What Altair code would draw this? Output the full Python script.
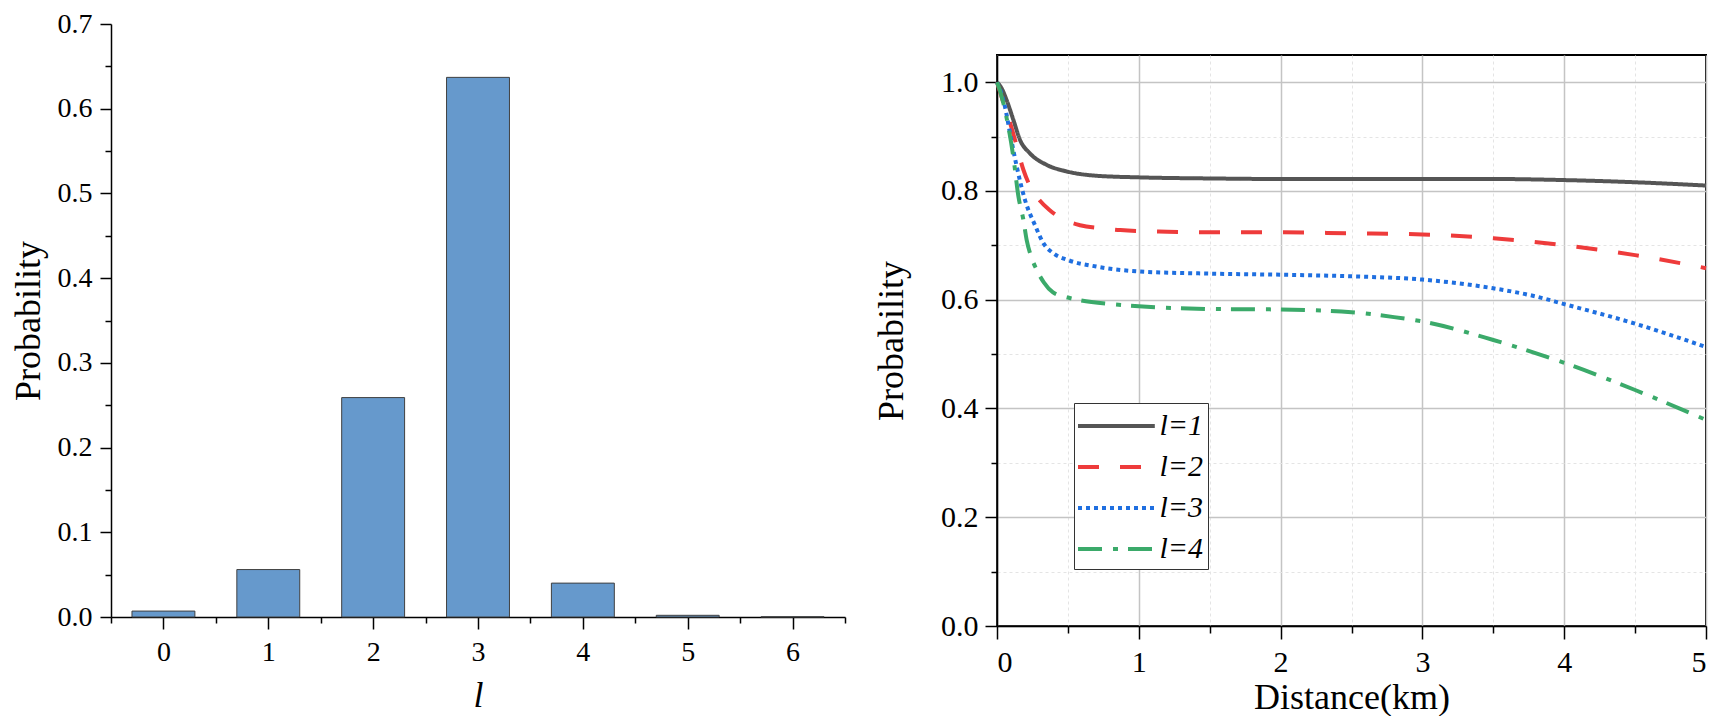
import altair as alt
import pandas as pd

# ---- left panel: probability of each l ----
l_values = [0, 1, 2, 3, 4, 5, 6]
l_prob = [0.007, 0.056, 0.259, 0.637, 0.040, 0.002, 0.0003]

# ---- right panel: probability versus distance (km) ----
dist_1 = [0, 0.03, 0.068, 0.115, 0.162, 0.233, 0.35, 0.49, 0.70, 1.0, 1.5, 2.0, 2.5, 3.0, 3.5, 4.0, 4.5, 5.0]
prob_1 = [1.0, 0.99, 0.967, 0.931, 0.894, 0.869, 0.848, 0.836, 0.828, 0.825, 0.823, 0.822, 0.822, 0.822, 0.822, 0.820, 0.816, 0.810]

dist_2 = [0, 0.03, 0.06, 0.092, 0.127, 0.186, 0.24, 0.30, 0.37, 0.45, 0.586, 0.75, 0.87, 1.2, 1.5, 2.0, 2.5, 3.0, 3.5, 4.0, 4.5, 5.0]
prob_2 = [1.0, 0.975, 0.95, 0.925, 0.894, 0.839, 0.805, 0.783, 0.765, 0.75, 0.737, 0.731, 0.728, 0.725, 0.724, 0.724, 0.722, 0.720, 0.713, 0.700, 0.682, 0.658]

dist_3 = [0, 0.03, 0.056, 0.092, 0.139, 0.198, 0.268, 0.327, 0.40, 0.5, 0.7, 1.0, 1.5, 2.0, 2.5, 3.0, 3.5, 3.8, 4.0, 4.5, 5.0]
prob_3 = [1.0, 0.98, 0.955, 0.906, 0.845, 0.783, 0.737, 0.704, 0.685, 0.673, 0.661, 0.652, 0.648, 0.646, 0.643, 0.637, 0.621, 0.606, 0.592, 0.556, 0.513]

dist_4 = [0, 0.02, 0.045, 0.08, 0.115, 0.151, 0.186, 0.209, 0.24, 0.276, 0.33, 0.393, 0.5, 0.588, 0.8, 1.0, 1.5, 2.0, 2.5, 2.8, 3.0, 3.5, 4.0, 4.5, 5.0]
prob_4 = [1.0, 0.985, 0.961, 0.918, 0.863, 0.790, 0.747, 0.71, 0.68, 0.657, 0.632, 0.614, 0.604, 0.599, 0.592, 0.588, 0.583, 0.582, 0.577, 0.568, 0.560, 0.526, 0.484, 0.434, 0.379]

series_names = ["l=1", "l=2", "l=3", "l=4"]
series_colors = ["#555555", "#EE3B3B", "#1F6FE0", "#3BAA6A"]
series_dashes = [[1, 0], [21, 21], [4, 4], [24, 11, 5, 10]]

# tick positions (majors are labelled, the rest are minor ticks)
l_ticks = [-0.5, 0, 0.5, 1, 1.5, 2, 2.5, 3, 3.5, 4, 4.5, 5, 5.5, 6, 6.5]
bar_prob_ticks = [0.0, 0.05, 0.1, 0.15, 0.2, 0.25, 0.3, 0.35, 0.4, 0.45, 0.5, 0.55, 0.6, 0.65, 0.7]
dist_ticks = [0, 0.5, 1, 1.5, 2, 2.5, 3, 3.5, 4, 4.5, 5]
curve_prob_ticks = [0.0, 0.1, 0.2, 0.3, 0.4, 0.5, 0.6, 0.7, 0.8, 0.9, 1.0]

SERIF = "Liberation Serif"

bars_df = pd.DataFrame({"l": l_values, "prob": l_prob})
curves_df = pd.concat(
    [
        pd.DataFrame({"dist": d, "prob": p, "series": s})
        for d, p, s in zip([dist_1, dist_2, dist_3, dist_4],
                           [prob_1, prob_2, prob_3, prob_4], series_names)
    ],
    ignore_index=True,
)


def styled_axis(label_size, **kw):
    base = dict(
        domainColor="black", domainWidth=1.5, tickColor="black", tickWidth=1.5,
        labelFont=SERIF, labelFontSize=label_size, labelColor="black",
        titleFont=SERIF, titleFontSize=36, titleFontWeight="normal", titleColor="black",
    )
    base.update(kw)
    return alt.Axis(**base)


def minor_size(test, minor, major):
    return {"condition": {"test": test, "value": minor}, "value": major}


# ---- bar chart ----
bar_minor = "round(datum.value * 100) % 10 != 0"
l_minor = "datum.value % 1 != 0"

bars = (
    alt.Chart(bars_df)
    .transform_calculate(lo="datum.l - 0.3", hi="datum.l + 0.3")
    .mark_bar(color="#6699CC", stroke="#404040", strokeWidth=1)
    .encode(
        x=alt.X(
            "lo:Q",
            scale=alt.Scale(domain=[-0.5, 6.5], nice=False, zero=False),
            axis=styled_axis(
                28, title="l", titleFontStyle="italic", values=l_ticks,
                labelExpr="datum.value % 1 == 0 ? format(datum.value, 'd') : ''",
                tickSize=minor_size(l_minor, 6, 12), grid=False,
                labelPadding=9, titlePadding=12,
            ),
        ),
        x2="hi:Q",
        y=alt.Y(
            "prob:Q",
            scale=alt.Scale(domain=[0, 0.7], nice=False),
            axis=styled_axis(
                28, title="Probability", values=bar_prob_ticks,
                labelExpr="round(datum.value * 100) % 10 == 0 ? format(datum.value, '.1f') : ''",
                tickSize=minor_size(bar_minor, 6, 11), grid=False,
                labelPadding=8, titlePadding=10,
            ),
        ),
        y2=alt.datum(0),
    )
    .properties(width=734, height=593, view=alt.ViewBackground(stroke="transparent"))
)

# ---- distance curves ----
dist_minor = "datum.value % 1 != 0"
curve_minor = "round(datum.value * 10) % 2 == 1"

curves = (
    alt.Chart(curves_df)
    .mark_line(strokeWidth=4, strokeCap="butt", interpolate="monotone")
    .encode(
        x=alt.X(
            "dist:Q",
            scale=alt.Scale(domain=[0, 5], nice=False),
            axis=styled_axis(
                30, title="Distance(km)", values=dist_ticks,
                labelExpr="datum.value % 1 == 0 ? format(datum.value, 'd') : ''",
                tickSize=minor_size(dist_minor, 7, 13),
                grid=True,
                gridColor=minor_size(dist_minor, "#e4e4e4", "#c4c4c4"),
                gridDash=minor_size(dist_minor, [3, 3], []),
                gridWidth=minor_size(dist_minor, 1, 1.5),
                labelPadding=8, titlePadding=3,
            ),
        ),
        y=alt.Y(
            "prob:Q",
            scale=alt.Scale(domain=[0, 1.05], nice=False),
            axis=styled_axis(
                30, title="Probability", values=curve_prob_ticks,
                labelExpr="round(datum.value * 10) % 2 == 0 ? format(datum.value, '.1f') : ''",
                tickSize=minor_size(curve_minor, 6, 12),
                grid=True,
                gridColor=minor_size(curve_minor, "#e4e4e4", "#c4c4c4"),
                gridDash=minor_size(curve_minor, [3, 3], []),
                gridWidth=minor_size(curve_minor, 1, 1.5),
                labelPadding=7, titlePadding=30,
            ),
        ),
        color=alt.Color(
            "series:N",
            scale=alt.Scale(domain=series_names, range=series_colors),
            legend=alt.Legend(
                title=None, orient="none", legendX=963, legendY=379,
                symbolType="M-2.4,0H2.4", symbolSize=1024, symbolStrokeWidth=4,
                symbolOffset=19.4,
                labelFont=SERIF, labelFontSize=30, labelFontStyle="italic",
                labelColor="black", labelOffset=25, rowPadding=8, padding=5,
                labelExpr="datum.label + '\u00a0\u00a0'",
                strokeColor="#333333", fillColor="white",
            ),
        ),
        strokeDash=alt.StrokeDash(
            "series:N",
            scale=alt.Scale(domain=series_names, range=series_dashes),
            legend=None,
        ),
    )
    .properties(
        width=709, height=571,
        view=alt.ViewBackground(stroke="black", strokeWidth=2),
    )
)

# empty strip that lowers the framed panel relative to the bar chart
top_gap = (
    alt.Chart(pd.DataFrame({"v": [0]}))
    .mark_point(opacity=0)
    .properties(width=709, height=1, view=alt.ViewBackground(stroke="transparent"))
)

right_panel = alt.vconcat(top_gap, curves, spacing=26)

chart = (
    alt.hconcat(bars, right_panel, spacing=25)
    .properties(padding={"left": 9, "top": 9, "right": 5, "bottom": 0})
    .configure(background="white")
)

chart.save("out.html", embed_options={"renderer": "svg", "actions": False})
